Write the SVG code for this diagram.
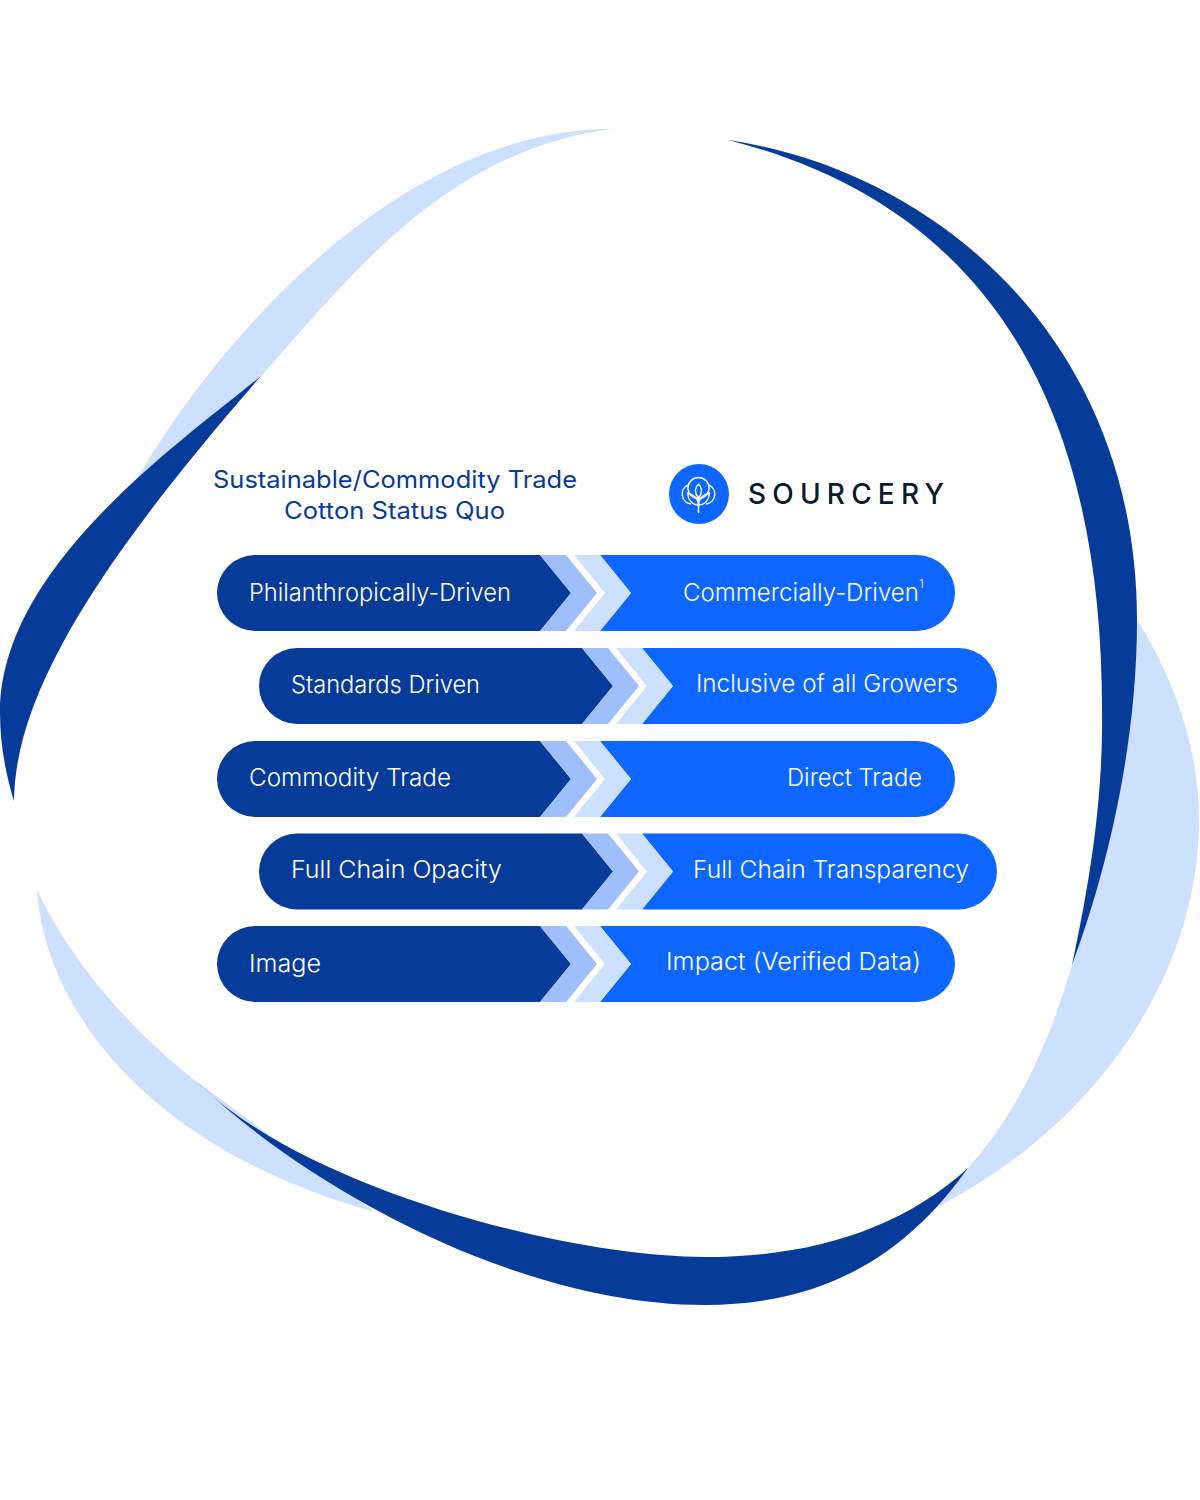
<svg xmlns="http://www.w3.org/2000/svg" width="1200" height="1500" viewBox="0 0 1200 1500">
<style>
.navy{fill:#073B99}.blue{fill:#0D66FF}.mid{fill:#9FBFFC}.pale{fill:#CEE0FF}
text{font-family:"Inter","Liberation Sans",sans-serif;font-variant-ligatures:none}
.t{fill:#fff;font-size:24px;font-weight:300}
.h{fill:#073B99;font-size:24px;font-weight:400}
.ic{fill:none;stroke:#fff;stroke-width:1.4}
</style>
<defs>
<g id="chev">
<path class="blue" d="M383,0H700a38,38 0 0 1 0,76H383L414,38Z"/>
<path class="navy" d="M38,0H323L354,38L323,76H38a38,38 0 0 1 0,-76Z"/>
<path class="mid" d="M323,0H349L380,38L349,76H323L354,38Z"/>
<path class="pale" d="M357,0H383L414,38L383,76H357L388,38Z"/>
</g>
</defs>
<g id="swooshes">
<path class="pale" d="M613,129C430,128 250,290 137,478L261,376C340,290 440,150 613,129Z"/>
<path class="navy" d="M261,376C170,450 0,570 0,713C0,745 6,775 14,801C15,690 105,555 261,376Z"/>
<path class="pale" d="M1137,620C1175,680 1199,750 1199,820C1199,980 1090,1130 935,1208L968,1168C1020,1110 1050,1040 1072,965Z"/>
<path class="navy" d="M728,140C935,170 1137,340 1137,620C1137,760 1100,890 1072,965C1095,860 1103,780 1102,710C1102,400 985,205 728,140Z"/>
<path class="pale" d="M37,890C45,1010 150,1150 375,1212L197,1082C130,1030 70,960 37,890Z"/>
<path class="navy" d="M197,1082C310,1190 520,1305 705,1305C830,1305 910,1250 968,1168C900,1230 810,1257 705,1257C560,1257 300,1185 197,1082Z"/>
</g>
<g id="heading">
<text class="h" x="213" y="488" textLength="364" lengthAdjust="spacingAndGlyphs">Sustainable/Commodity Trade</text>
<text class="h" x="284" y="519" textLength="221" lengthAdjust="spacingAndGlyphs">Cotton Status Quo</text>
</g>
<g id="logo">
<circle class="blue" cx="699" cy="494" r="30"/>
<g class="ic">
<circle cx="698.5" cy="488" r="10.5"/>
<path d="M688,485A10,10 0 0 0 691,504M709,485A10,10 0 0 1 706,504"/>
<path d="M698.5,513V498M698.5,498C694,493 695,487 698.5,484C702,487 703,493 698.5,498M698.5,505C692,505 688,500 687.5,493C693,494 698,498 698.5,505M698.5,505C705,505 709,500 709.5,493C704,494 699,498 698.5,505"/>
</g>
<text x="748" y="504" font-size="28" font-weight="500" fill="#0B1A33" textLength="196">SOURCERY</text>
</g>
<g id="row1" transform="translate(217,555)"><use href="#chev"/>
<text class="t" x="32" y="46" textLength="262" lengthAdjust="spacingAndGlyphs">Philanthropically-Driven</text>
<text class="t" x="466" y="46" textLength="236" lengthAdjust="spacingAndGlyphs">Commercially-Driven</text>
<text class="t" x="702" y="33" style="font-size:12px">1</text></g>
<g id="row2" transform="translate(259,648)"><use href="#chev"/>
<text class="t" x="32" y="45" textLength="189" lengthAdjust="spacingAndGlyphs">Standards Driven</text>
<text class="t" x="437" y="44" textLength="262" lengthAdjust="spacingAndGlyphs">Inclusive of all Growers</text></g>
<g id="row3" transform="translate(217,741)"><use href="#chev"/>
<text class="t" x="32" y="45" textLength="202" lengthAdjust="spacingAndGlyphs">Commodity Trade</text>
<text class="t" x="570" y="45" textLength="135" lengthAdjust="spacingAndGlyphs">Direct Trade</text></g>
<g id="row4" transform="translate(259,833.5)"><use href="#chev"/>
<text class="t" x="32" y="44.5" textLength="211" lengthAdjust="spacingAndGlyphs">Full Chain Opacity</text>
<text class="t" x="434" y="44.5" textLength="276" lengthAdjust="spacingAndGlyphs">Full Chain Transparency</text></g>
<g id="row5" transform="translate(217,926)"><use href="#chev"/>
<text class="t" x="32" y="46" textLength="72" lengthAdjust="spacingAndGlyphs">Image</text>
<text class="t" x="449" y="44" textLength="255" lengthAdjust="spacingAndGlyphs">Impact (Verified Data)</text></g>
</svg>
